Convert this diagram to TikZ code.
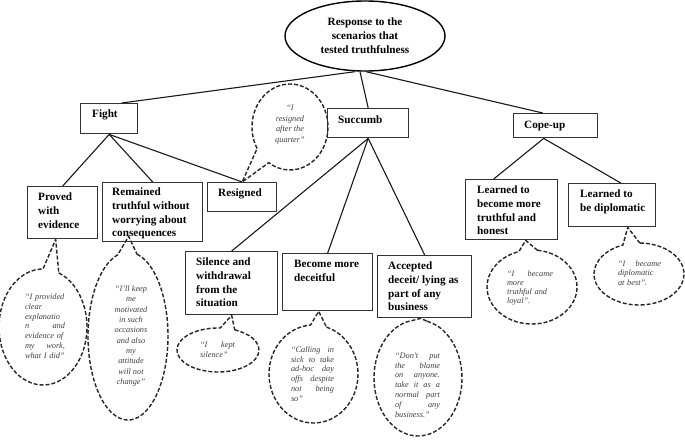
\documentclass[tikz,border=0pt]{standalone}
\usepackage{fontspec}
\setmainfont{Liberation Serif}
\usetikzlibrary{calc,shapes.geometric}
\newcommand\jf{\hspace{0pt plus 1filll}}
\newcommand\speech[6]{%
  \draw[bub] ($(#1)+(#4:#2 and #3)$) arc[start angle=#4, end angle=#5, x radius=#2, y radius=#3] -- #6 -- cycle;}
\tikzset{
  box/.style={draw=black!80, line width=1.4pt, rectangle, inner sep=0pt, anchor=north west},
  lbl/.style={font=\bfseries\fontsize{11.2}{13.6}\selectfont, align=left, anchor=north west, inner sep=0pt},
  conn/.style={draw=black!90, line width=1.1pt},
  bub/.style={draw=black!85, line width=1.4pt, dash pattern=on 4pt off 2pt, line join=round},
  qtxt/.style={font=\itshape\fontsize{8.3}{9.8}\selectfont, text=black!75, inner sep=0pt, align=left}
}
\begin{document}
\begin{tikzpicture}[x=1pt,y=-1pt]
\path[use as bounding box, fill=white] (0,0) rectangle (685,439);

% root
\node[draw=black, ellipse, line width=1.4pt, minimum width=160pt, minimum height=70pt, inner sep=0pt,
      align=center, font=\bfseries\fontsize{11.2}{14}\selectfont] (root) at (365,36)
      {Response to the\\scenarios that\\tested truthfulness};

% boxes
\node[box, minimum width=57pt, minimum height=30pt] (fight) at (80,103) {};
\node[box, minimum width=81pt, minimum height=29pt] (succumb) at (327,108) {};
\node[box, minimum width=84pt, minimum height=24pt] (copeup) at (513,113) {};
\node[box, minimum width=70pt, minimum height=52pt] (proved) at (27,186) {};
\node[box, minimum width=100pt, minimum height=59pt] (remained) at (102,182) {};
\node[box, minimum width=69pt, minimum height=29pt] (resigned) at (207,182) {};
\node[box, minimum width=92pt, minimum height=63pt] (silence) at (185,251) {};
\node[box, minimum width=90pt, minimum height=57pt] (deceit) at (282,253) {};
\node[box, minimum width=94pt, minimum height=62pt] (accepted) at (377,255) {};
\node[box, minimum width=92pt, minimum height=60pt] (truthful) at (465,179) {};
\node[box, minimum width=87pt, minimum height=43pt] (diplomatic) at (568,183) {};

% box labels
\node[lbl] (fightT) at (92,110) {Fight};
\node[lbl] (succumbT) at (338,116) {Succumb};
\node[lbl] (copeupT) at (524,121) {Cope-up};
\node[lbl] (provedT) at (38,193) {Proved\\with\\evidence};
\node[lbl] (remainedT) at (112,188) {Remained\\truthful without\\worrying about\\consequences};
\node[lbl] (resignedT) at (218,189) {Resigned};
\node[lbl] (silenceT) at (196,258) {Silence and\\withdrawal\\from the\\situation};
\node[lbl] (deceitT) at (294,260) {Become more\\deceitful};
\node[lbl] (acceptedT) at (388,262) {Accepted\\deceit/ lying as\\part of any\\business};
\node[lbl] (truthfulT) at (477,186) {Learned to\\become more\\truthful and\\honest};
\node[lbl] (diplomaticT) at (580,190) {Learned to\\be diplomatic};

% connectors
\draw[conn] ([xshift=-10pt]root.south) -- ([xshift=12.5pt]fight.north);
\draw[conn] ([xshift=-5pt]root.south) -- (succumb.north);
\draw[conn] ([xshift=1pt]root.south) -- ([xshift=-13pt]copeup.north);
\draw[conn] (fight.south) -- (proved.north);
\draw[conn] (fight.south) -- (remained.north);
\draw[conn] (fight.south) -- (resigned.north);
\draw[conn] (succumb.south) -- (silence.north);
\draw[conn] (succumb.south) -- (deceit.north);
\draw[conn] (succumb.south) -- (accepted.north);
\draw[conn] ([xshift=-12pt]copeup.south) -- ([xshift=-18pt]truthful.north);
\draw[conn] ([xshift=-12pt]copeup.south) -- ([xshift=8.5pt]diplomatic.north);

% speech bubbles
\coordinate (cResigned) at (290,127);
\coordinate (cProved) at (43,327);
\coordinate (cRemained) at (128,336);
\coordinate (cSilence) at (218,350);
\coordinate (cDeceit) at (313.5,374);
\coordinate (cAccepted) at (418,378);
\coordinate (cTruthful) at (532,287);
\coordinate (cDiplomatic) at (639,274);

\speech{cResigned}{38}{43}{150}{484}{(resigned.north)}
\speech{cProved}{44}{58}{291}{630}{([xshift=-7pt]proved.south)}
\speech{cRemained}{40}{84}{283}{615}{([xshift=-24pt,yshift=6pt]remained.south)}
\speech{cSilence}{41}{22}{294}{633}{(silence.south)}
\speech{cDeceit}{44.5}{49}{287}{626}{([xshift=-9pt]deceit.south)}
\speech{cAccepted}{44}{58}{282}{622}{([xshift=-4pt]accepted.south)}
\speech{cTruthful}{45}{37}{277}{613}{([xshift=14pt]truthful.south)}
\speech{cDiplomatic}{45}{31}{271}{609}{([xshift=15.5pt]diplomatic.south)}

% quotes
\node[qtxt, align=center, font=\itshape\fontsize{8.3}{10.7}\selectfont] (qResigned) at (290,124.5)
  {“I\\resigned\\after the\\quarter”};
\node[qtxt, text width=40pt] (qProved) at (45,326)
  {“I provided\\clear\\explanatio\\n\jf and\\evidence of\\my\jf work,\\what I did”};
\node[qtxt, align=center, font=\itshape\fontsize{8.3}{10.3}\selectfont] (qRemained) at (131,336)
  {“I'll keep\\me\\motivated\\in such\\occasions\\and also\\my\\attitude\\will not\\change”};
\node[qtxt, text width=35pt] (qSilence) at (217.5,349.5)
  {“I\jf kept\\silence”};
\node[qtxt, text width=43pt] (qDeceit) at (312.5,374)
  {“Calling\jf in\\sick\jf to\jf take\\ad-hoc\jf day\\offs\jf despite\\not\jf being\\so”};
\node[qtxt, text width=45pt] (qAccepted) at (417.5,385)
  {“Don't\jf put\\the\jf blame\\on\jf anyone.\\take\jf it\jf as\jf a\\normal\jf part\\of\jf any\\business.”};
\node[qtxt, text width=46pt, font=\itshape\fontsize{8.3}{9.3}\selectfont] (qTruthful) at (530,288)
  {“I\jf became\\more\\truthful and\\loyal”.};
\node[qtxt, text width=43pt] (qDiplomatic) at (639.5,273)
  {“I\jf became\\diplomatic\\at best”.};
\end{tikzpicture}
\end{document}
